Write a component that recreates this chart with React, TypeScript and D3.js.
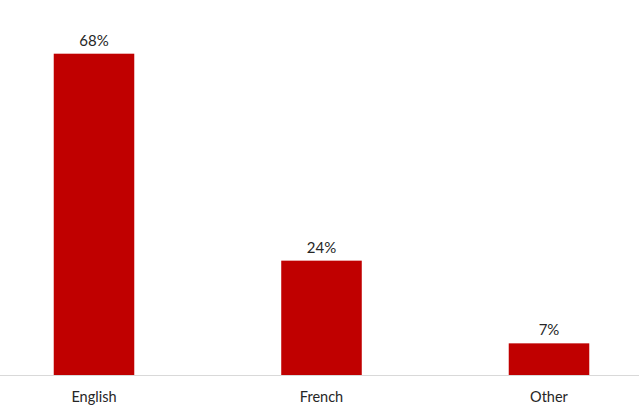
import React from "react";
import * as d3 from "d3";

const categories = ["English", "French", "Other"];
const values = [0.68, 0.242, 0.067];
const valueLabels = ["68%", "24%", "7%"];

const W = 639;
const H = 408;
const baseline = 375;

export default function App() {
  const x = d3
    .scaleBand<string>()
    .domain(categories)
    .range([-19.75, 662.75])
    .paddingInner(0.646)
    .paddingOuter(0.323);
  const y = d3.scaleLinear().domain([0, 0.68]).range([baseline, 53.7]);
  const font = "Lato, 'Open Sans', sans-serif";
  return (
    <svg
      width={W}
      height={H}
      style={{ position: "absolute", left: 0, top: 0, background: "#fff" }}
    >
      {categories.map((c, i) => (
        <g key={c}>
          <rect
            x={x(c)}
            y={y(values[i])}
            width={x.bandwidth()}
            height={baseline - y(values[i])}
            fill="#c00000"
          />
          <text
            x={(x(c) as number) + x.bandwidth() / 2}
            y={y(values[i]) - 8}
            textAnchor="middle"
            fontFamily={font}
            fontSize={15}
            fill="#262626"
          >
            {valueLabels[i]}
          </text>
          <text
            x={(x(c) as number) + x.bandwidth() / 2}
            y={402}
            textAnchor="middle"
            fontFamily={font}
            fontSize={14.5}
            fill="#262626"
          >
            {c}
          </text>
        </g>
      ))}
      <line x1={0} x2={W} y1={375.5} y2={375.5} stroke="#d9d9d9" strokeWidth={1} />
    </svg>
  );
}
